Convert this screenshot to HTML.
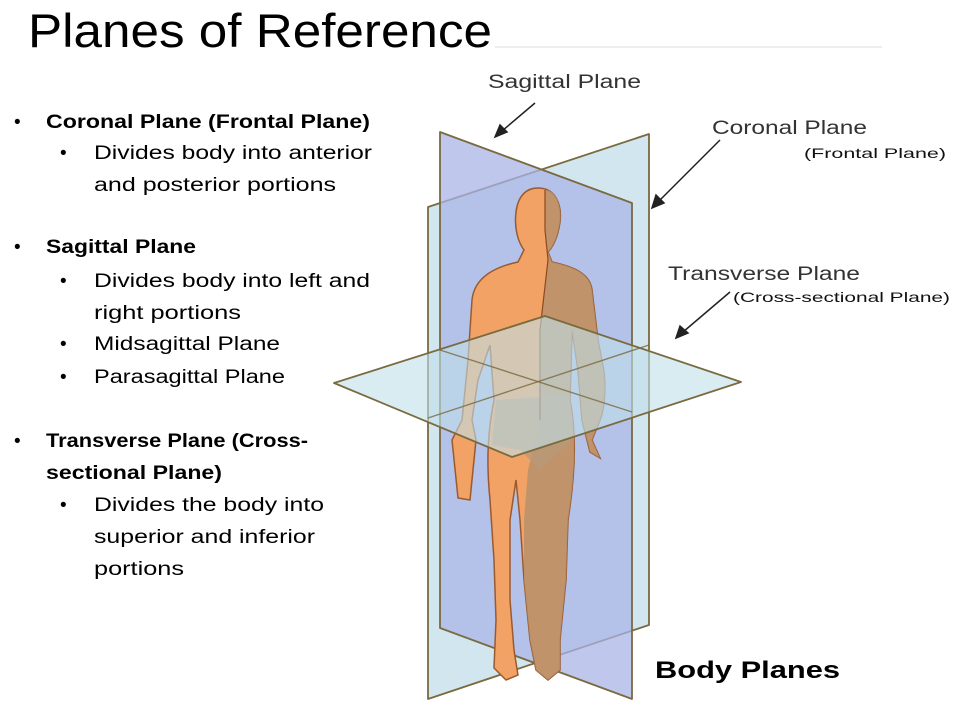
<!DOCTYPE html>
<html><head><meta charset="utf-8"><style>
html,body{margin:0;padding:0;background:#fff;}
svg{display:block;}
.t{font-family:"Liberation Sans",sans-serif;font-size:19px;fill:#000;}
.b{font-weight:bold;}
.lab{font-family:"Liberation Sans",sans-serif;font-size:19px;fill:#333;}
.sm{font-family:"Liberation Sans",sans-serif;font-size:14px;fill:#111;}
</style></head><body>
<svg width="960" height="720" viewBox="0 0 960 720" xmlns="http://www.w3.org/2000/svg">
<rect width="960" height="720" fill="#fff"/>
<text x="28" y="47" font-family="Liberation Sans,sans-serif" font-size="47" textLength="464" lengthAdjust="spacingAndGlyphs">Planes of Reference</text>
<line x1="495" y1="47" x2="882" y2="47" stroke="#eee" stroke-width="2"/>

<g class="t">
<text x="14" y="128">•</text><text class="b" x="46" y="128" textLength="324" lengthAdjust="spacingAndGlyphs">Coronal Plane (Frontal Plane)</text>
<text x="60" y="159">•</text><text x="94" y="159" textLength="278" lengthAdjust="spacingAndGlyphs">Divides body into anterior</text>
<text x="94" y="191" textLength="242" lengthAdjust="spacingAndGlyphs">and posterior portions</text>
<text x="14" y="253">•</text><text class="b" x="46" y="253" textLength="150" lengthAdjust="spacingAndGlyphs">Sagittal Plane</text>
<text x="60" y="287">•</text><text x="94" y="287" textLength="276" lengthAdjust="spacingAndGlyphs">Divides body into left and</text>
<text x="94" y="319" textLength="147" lengthAdjust="spacingAndGlyphs">right portions</text>
<text x="60" y="350">•</text><text x="94" y="350" textLength="186" lengthAdjust="spacingAndGlyphs">Midsagittal Plane</text>
<text x="60" y="383">•</text><text x="94" y="383" textLength="191" lengthAdjust="spacingAndGlyphs">Parasagittal Plane</text>
<text x="14" y="447">•</text><text class="b" x="46" y="447" textLength="262" lengthAdjust="spacingAndGlyphs">Transverse Plane (Cross-</text>
<text class="b" x="46" y="479" textLength="176" lengthAdjust="spacingAndGlyphs">sectional Plane)</text>
<text x="60" y="511">•</text><text x="94" y="511" textLength="230" lengthAdjust="spacingAndGlyphs">Divides the body into</text>
<text x="94" y="543" textLength="221" lengthAdjust="spacingAndGlyphs">superior and inferior</text>
<text x="94" y="575" textLength="90" lengthAdjust="spacingAndGlyphs">portions</text>
</g>

<!-- planes -->
<g stroke="#7a6a40" stroke-width="1.8" stroke-linejoin="round">
<polygon points="428,207 649,134 649,625 428,699" fill="#cde3ee" fill-opacity="0.9"/>
<polygon points="440,132 632,203 632,699 440,628" fill="#a9b4e6" fill-opacity="0.75"/>
</g>

<!-- body -->
<g stroke="#9a5a30" stroke-width="1.5">
<path d="M538,188 C556,188 562,205 560,222 C558,238 552,248 548,252 L552,262 C570,266 590,272 592,290 L598,340 L604,372 C606,392 604,410 600,420 L592,440 L600,458 L590,452 L582,420 L578,370 L572,330 L570,400 C576,430 576,470 568,520 L566,580 L560,640 L560,670 L548,680 L536,670 L530,640 L524,580 L520,520 L516,480 L510,520 L510,600 L514,650 L518,675 L506,680 L494,668 L496,620 L494,560 L490,500 C486,460 488,430 494,400 L490,345 L478,380 L472,420 L476,440 L470,500 L458,498 L452,440 L462,420 L468,360 L472,300 C474,280 490,268 518,262 L524,250 C518,242 514,228 516,212 C518,196 526,188 538,188 Z" fill="#f2a264"/>
</g>
<path d="M545,190 C556,190 562,205 560,222 C558,238 552,248 548,252 L552,262 C570,266 590,272 592,290 L598,340 L604,372 C606,392 604,410 600,420 L592,440 L600,458 L590,452 L582,420 L578,370 L572,330 L570,400 C576,430 576,470 568,520 L566,580 L560,640 L560,670 L548,680 L536,670 L530,640 L524,580 L524,520 L528,470 L540,420 L540,330 L548,260 L545,230 Z" fill="#b7906c" fill-opacity="0.85"/>
<path d="M496,400 L570,395 L572,440 L540,470 L520,450 L492,445 Z" fill="#b99a78" fill-opacity="0.8"/>
<path d="M545,190 L545,230 L548,260 L540,330 L540,420" stroke="#8a4a20" stroke-width="1.2" fill="none"/>

<!-- transverse plane -->
<polygon points="334,383 545,316 741,382 512,457" fill="#bfe0ea" fill-opacity="0.6" stroke="#7a6a40" stroke-width="1.8" stroke-linejoin="round"/>
<line x1="440" y1="350" x2="632" y2="412" stroke="#7a6a40" stroke-width="1.4" opacity="0.8"/>
<line x1="428" y1="418" x2="649" y2="345" stroke="#7a6a40" stroke-width="1.4" opacity="0.8"/>

<!-- labels -->
<text class="lab" x="488" y="88" textLength="153" lengthAdjust="spacingAndGlyphs">Sagittal Plane</text>
<text class="lab" x="712" y="134" textLength="155" lengthAdjust="spacingAndGlyphs">Coronal Plane</text>
<text class="sm" x="804" y="158" textLength="142" lengthAdjust="spacingAndGlyphs">(Frontal Plane)</text>
<text class="lab" x="668" y="280" textLength="192" lengthAdjust="spacingAndGlyphs">Transverse Plane</text>
<text class="sm" x="733" y="302" textLength="217" lengthAdjust="spacingAndGlyphs">(Cross-sectional Plane)</text>
<text x="655" y="678" font-family="Liberation Sans,sans-serif" font-weight="bold" font-size="24" textLength="185" lengthAdjust="spacingAndGlyphs">Body Planes</text>

<g stroke="#222" stroke-width="1.5" fill="#222">
<line x1="535" y1="103" x2="502" y2="131"/><polygon points="495,137 500,125 507,132"/>
<line x1="720" y1="140" x2="660" y2="200"/><polygon points="652,208 656,195 664,203"/>
<line x1="730" y1="292" x2="683" y2="332"/><polygon points="676,338 680,326 688,333"/>
</g>
</svg>
</body></html>
